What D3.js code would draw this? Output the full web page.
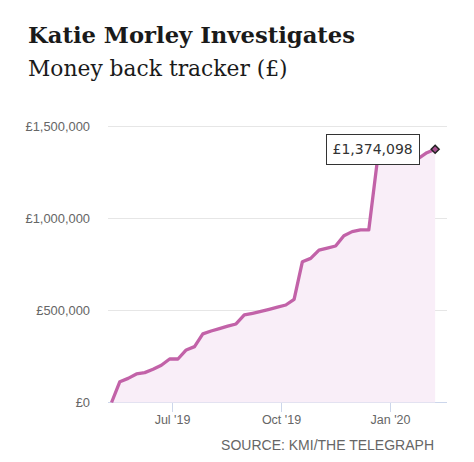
<!DOCTYPE html>
<html>
<head>
<meta charset="utf-8">
<script src="https://cdn.jsdelivr.net/npm/d3@7"></script>
<style>
  body { margin: 0; background: #fff; }
  svg { display: block; }
</style>
</head>
<body>
<script>
// weekly totals of money recovered
const dates = ["2019-05-11", "2019-05-18", "2019-05-25", "2019-06-01", "2019-06-08", "2019-06-15",
    "2019-06-22", "2019-06-29", "2019-07-06", "2019-07-13", "2019-07-20", "2019-07-27", "2019-08-03",
    "2019-08-10", "2019-08-17", "2019-08-24", "2019-08-31", "2019-09-07", "2019-09-14", "2019-09-21",
    "2019-09-28", "2019-10-05", "2019-10-12", "2019-10-19", "2019-10-26", "2019-11-02", "2019-11-09",
    "2019-11-16", "2019-11-23", "2019-11-30", "2019-12-07", "2019-12-14", "2019-12-21", "2019-12-28",
    "2020-01-04", "2020-01-11", "2020-01-18", "2020-01-25", "2020-02-01", "2020-02-08"];
const totals = [0, 113000, 131000, 155000, 162000, 180000, 202000, 236000, 236000, 285000, 303000,
    372000, 388000, 401000, 414000, 426000, 475000, 484000, 494000, 505000, 517000, 529000, 560000,
    764000, 782000, 827000, 838000, 849000, 905000, 927000, 936000, 936000, 1300000, 1305000,
    1310000, 1315000, 1320000, 1325000, 1355000, 1374098];
const yTicks = [0, 500000, 1000000, 1500000];
const xTicks = ["2019-07-01", "2019-10-01", "2020-01-01"];
const xDomain = ["2019-05-08", "2020-02-18"];

const width = 474, height = 462;
const parse = d3.timeParse("%Y-%m-%d");
const data = dates.map((d, i) => ({ date: parse(d), value: totals[i] }));

const svg = d3.select("body").append("svg")
    .attr("width", width)
    .attr("height", height);

const x = d3.scaleTime().domain(xDomain.map(parse)).range([108, 447]);
const y = d3.scaleLinear().domain([0, 1500000]).range([402.5, 126]);

// titles
svg.append("text")
    .attr("x", 28).attr("y", 43)
    .style("font", "bold 22.7px 'DejaVu Serif', Georgia, serif")
    .style("fill", "#1a1a1a")
    .text("Katie Morley Investigates");
svg.append("text")
    .attr("x", 28).attr("y", 76)
    .style("font", "21.8px 'DejaVu Serif', Georgia, serif")
    .style("fill", "#1a1a1a")
    .text("Money back tracker (£)");

// grid
svg.append("g")
    .selectAll("line")
    .data(yTicks.filter(d => d > 0))
    .join("line")
    .attr("x1", 108).attr("x2", 447)
    .attr("y1", d => Math.round(y(d)) + 0.5).attr("y2", d => Math.round(y(d)) + 0.5)
    .attr("stroke", "#e6e6e6");

const fmt = d3.format(",");
svg.append("g")
    .style("font", "12.9px 'Liberation Sans', Arial, sans-serif")
    .style("fill", "#666")
    .attr("text-anchor", "end")
    .selectAll("text")
    .data(yTicks)
    .join("text")
    .attr("x", 90)
    .attr("y", d => y(d) + 4.5)
    .text(d => "£" + fmt(d));

// x axis
svg.append("line")
    .attr("x1", 108).attr("x2", 447)
    .attr("y1", 402.5).attr("y2", 402.5)
    .attr("stroke", "#ccd6eb");
const xt = svg.append("g")
    .selectAll("g")
    .data(xTicks.map(parse))
    .join("g")
    .attr("transform", d => `translate(${Math.round(x(d)) + 0.5},0)`);
xt.append("line")
    .attr("y1", 402.5).attr("y2", 412)
    .attr("stroke", "#ccd6eb");
xt.append("text")
    .attr("y", 424)
    .attr("text-anchor", "middle")
    .style("font", "12.5px 'Liberation Sans', Arial, sans-serif")
    .style("fill", "#666")
    .text(d => d3.timeFormat("%b '%y")(d));

// area + line
svg.append("path")
    .datum(data)
    .attr("fill", "#f9eef8")
    .attr("d", d3.area().x(d => x(d.date)).y0(y(0)).y1(d => y(d.value)));
svg.append("path")
    .datum(data)
    .attr("fill", "none")
    .attr("stroke", "#c262a8")
    .attr("stroke-width", 3.3)
    .attr("stroke-linejoin", "round")
    .attr("d", d3.line().x(d => x(d.date)).y(d => y(d.value)));

// last point marker and label
const last = data[data.length - 1];
const lx = x(last.date), ly = y(last.value);
svg.append("path")
    .attr("d", d3.symbol(d3.symbolDiamond2, 40)())
    .attr("transform", `translate(${lx},${ly})`)
    .attr("fill", "#a8508f")
    .attr("stroke", "#222")
    .attr("stroke-width", 1.5);

const bw = 93, bh = 30;
svg.append("rect")
    .attr("x", Math.round(lx - 16 - bw) + 0.5)
    .attr("y", Math.round(ly - bh / 2) + 0.5)
    .attr("width", bw).attr("height", bh)
    .attr("fill", "#fff")
    .attr("stroke", "#333");
svg.append("text")
    .attr("x", lx - 16 - bw / 2)
    .attr("y", ly + 5)
    .attr("text-anchor", "middle")
    .style("font", "14px 'DejaVu Sans', Verdana, sans-serif")
    .style("fill", "#333")
    .text("£" + fmt(last.value));

// source
svg.append("text")
    .attr("x", 434).attr("y", 450)
    .attr("text-anchor", "end")
    .style("font", "14px 'Liberation Sans', Arial, sans-serif")
    .style("fill", "#666")
    .text("SOURCE: KMI/THE TELEGRAPH");
</script>
</body>
</html>
